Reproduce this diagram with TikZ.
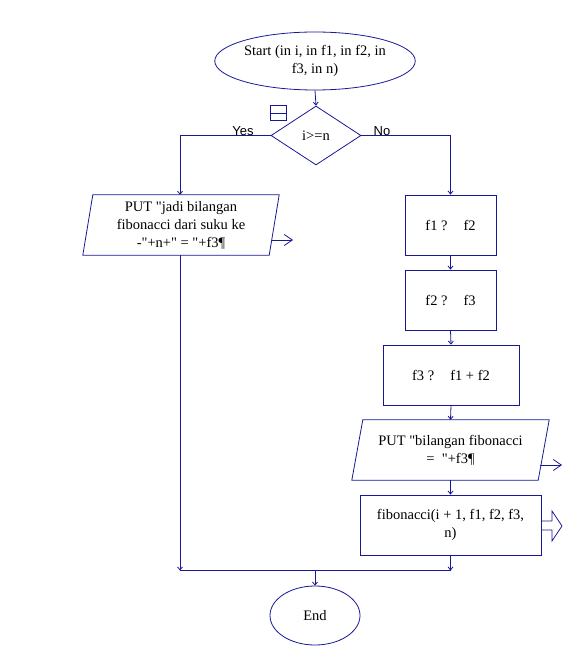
\documentclass[tikz,border=0pt]{standalone}
\usepackage{fontspec}
\setmainfont{Liberation Serif}[Ligatures=TeXOff]
\newfontfamily\labelfont{Liberation Sans}
\usetikzlibrary{shapes.geometric,arrows.meta,calc}
\definecolor{flow}{RGB}{24,24,150}
\newcommand{\dq}{\char34\relax}
\begin{document}
\begin{tikzpicture}[x=1pt,y=-1pt,
  every node/.style={font=\fontsize{14.5}{18}\selectfont, text=black, align=center, inner sep=0pt},
  terminal/.style={ellipse, draw=flow, line width=0.8pt},
  decision/.style={diamond, draw=flow, line width=0.8pt, minimum width=90pt, minimum height=59pt, aspect=1.5},
  procbox/.style={rectangle, draw=flow, line width=0.8pt, minimum height=60pt},
  iobox/.style={rectangle, draw=none, minimum height=60pt, minimum width=186pt},
  conn/.style={draw=flow, line width=0.8pt},
  arr/.style={conn, -{Straight Barb[length=3pt,width=5pt]}},
  outarr/.style={conn, -{Straight Barb[length=8pt,width=11pt]}},
  lbl/.style={font=\labelfont\fontsize{13}{15}\selectfont, anchor=base, inner sep=0pt}
]
\useasboundingbox (0,0) rectangle (577,660);

\node[terminal, minimum width=180pt, minimum height=58pt] (start) at (315,61) {Start (in i, in f1, in f2, in\\f3, in n)};
\node[decision] (dia) at (316,135.5) {i>=n};
\node[draw=flow, line width=0.8pt, minimum width=16pt, minimum height=15pt] (sym) at (278,113) {};
\draw[conn] (sym.west) -- (sym.east);

\node[iobox] (p1) at (181,225) {PUT \dq jadi bilangan\\fibonacci dari suku ke\\-\dq+n+\dq\ = \dq+f3¶};
\draw[conn] ($(p1.north west)+(5,0)$) -- ($(p1.north east)+(5,0)$) -- ($(p1.south east)+(-5,0)$) -- ($(p1.south west)+(-5,0)$) -- cycle;

\node[procbox, minimum width=91pt] (b1) at (450.5,225) {f1 ?\hspace{1.1em}f2};
\node[procbox, minimum width=91pt] (b2) at (450.5,300) {f2 ?\hspace{1.1em}f3};
\node[procbox, minimum width=136pt] (b3) at (451,375) {f3 ?\hspace{1.1em}f1 + f2};

\node[iobox] (p2) at (450.5,450) {PUT \dq bilangan fibonacci\\=\ \ \dq+f3¶};
\draw[conn] ($(p2.north west)+(5.5,0)$) -- ($(p2.north east)+(5.5,0)$) -- ($(p2.south east)+(-5.5,0)$) -- ($(p2.south west)+(-5.5,0)$) -- cycle;

\node[procbox, minimum width=181pt] (b4) at (450.5,525) {fibonacci(i + 1, f1, f2, f3,\\n)};

\node[terminal, minimum width=90pt, minimum height=59pt] (end) at (315,615.5) {End};

% connectors
\draw[arr] (start.south) -- (dia.north);
\draw[arr] (dia.west) -| (p1.north -| 180,0);
\node[lbl] (yes) at (243,135.5) {Yes};
\draw[arr] (dia.east) -| (b1.north);
\node[lbl] (no) at (382,135.5) {No};
\draw[arr] (b1.south) -- (b2.north);
\draw[arr] (b2.south) -- (b3.north);
\draw[arr] (b3.south) -- (p2.north);
\draw[arr] (p2.south) -- (b4.south |- b4.north);

\coordinate (m1) at (180,570.5);
\coordinate (m2) at (b4.south |- m1);
\draw[arr] (p1.south -| m1) -- (m1);
\draw[arr] (b4.south) -- (m2);
\draw[conn] (m1) -- (m2);
\draw[arr] (end.north |- m1) -- (end.north);

% output arrows
\coordinate (o1) at (271.5,240);
\coordinate (o1t) at (293,240);
\draw[outarr] (o1) -- (o1t);
\coordinate (o2) at (540,465);
\coordinate (o2t) at (562,465);
\draw[outarr] (o2) -- (o2t);

% call arrow
\draw[conn] (b4.east |- 0,521) -- (552,521) -- (552,511) -- (562,526) -- (552,541) -- (552,530) -- (b4.east |- 0,530);
\end{tikzpicture}
\end{document}
